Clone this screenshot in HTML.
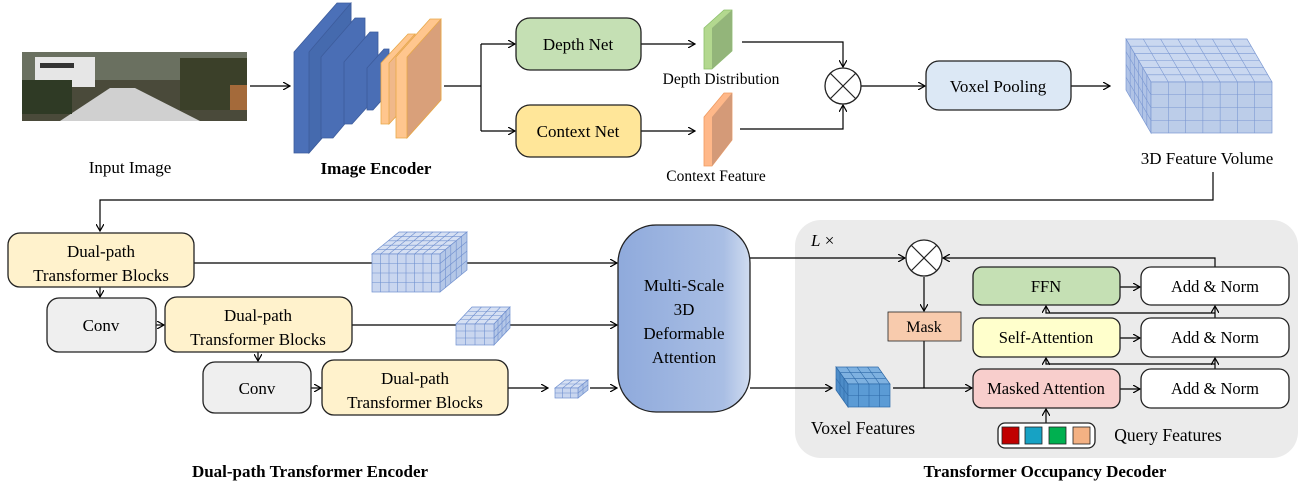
<!DOCTYPE html>
<html><head><meta charset="utf-8"><style>
body{margin:0;background:#fff;}
svg{display:block;font-family:"Liberation Serif",serif;}
</style></head><body>
<svg id="s" width="1316" height="491" viewBox="0 0 1316 491" xmlns="http://www.w3.org/2000/svg">
<defs>
<marker id="a" markerWidth="8" markerHeight="8" refX="7" refY="4" orient="auto" markerUnits="userSpaceOnUse"><path d="M0,0 L7,4 L0,8" fill="none" stroke="#000" stroke-width="1.2"/></marker>
<linearGradient id="ms" x1="0" x2="1" y1="0" y2="0"><stop offset="0" stop-color="#8faadc"/><stop offset="0.8" stop-color="#a9bee4"/><stop offset="1" stop-color="#d0dcf0"/></linearGradient>
</defs>
<rect x="795" y="220" width="503" height="238" rx="26" fill="#ebebeb"/>
<!-- input image -->
<rect x="22" y="52" width="225" height="69" fill="#4a4a3a"/>
<rect x="22" y="52" width="225" height="28" fill="#6a7060"/>
<rect x="35" y="57" width="60" height="30" fill="#e6e6e6"/>
<rect x="40" y="63" width="34" height="5" fill="#333"/>
<polygon points="60,121 110,88 135,88 200,121" fill="#d0d0d0"/>
<rect x="22" y="80" width="50" height="34" fill="#2f3a25"/>
<rect x="180" y="58" width="67" height="52" fill="#3b4029"/>
<rect x="230" y="85" width="17" height="25" fill="#a46a3a"/>
<!-- encoder -->
<g stroke="#3d5c9c" stroke-width="0.8">
<polygon points="294,52 337,3 351,3 351,105 309,153 294,153" fill="#4b70b8"/>
<polygon points="309,52 351,3 351,105 309,153" fill="#456aae"/>
<polygon points="321,57 355,18 365,18 365,100 333,138 321,138" fill="#4a6eb5"/>
<polygon points="344,62 370,32 378,32 378,95 352,124 344,124" fill="#4a6eb5"/>
<polygon points="367,68 384,49 389,49 389,92 373,110 367,110" fill="#4a6eb5"/>
</g>
<g stroke="#e8a848" stroke-width="0.8">
<polygon points="381,63 408,34 415,34 415,96 389,124 381,124" fill="#ffc68e"/>
<polygon points="389,63 415,34 415,96 389,124" fill="#f0b88a"/>
<polygon points="396,57 430,19 441,19 441,100 407,138 396,138" fill="#ffc68e"/>
<polygon points="407,57 441,19 441,100 407,138" fill="#d9a07a"/>
</g>
<g fill="none" stroke="#000" stroke-width="1.2">
<line x1="250" y1="86" x2="290" y2="86" marker-end="url(#a)"/>
<polyline points="444,86 481,86"/>
<polyline points="481,44 481,131"/>
<line x1="481" y1="44" x2="515" y2="44" marker-end="url(#a)"/>
<line x1="481" y1="131" x2="515" y2="131" marker-end="url(#a)"/>
<line x1="641" y1="44" x2="695" y2="44" marker-end="url(#a)"/>
<line x1="641" y1="131" x2="695" y2="131" marker-end="url(#a)"/>
<polyline points="742,42 843,42 843,67" marker-end="url(#a)"/>
<polyline points="740,129 843,129 843,105" marker-end="url(#a)"/>
<line x1="861" y1="86" x2="925" y2="86" marker-end="url(#a)"/>
<line x1="1071" y1="86" x2="1110" y2="86" marker-end="url(#a)"/>
<polyline points="1213,172 1213,200 100,200 100,231" marker-end="url(#a)"/>
<line x1="194" y1="263" x2="617" y2="263" marker-end="url(#a)"/>
<line x1="100" y1="287" x2="100" y2="297" marker-end="url(#a)"/>
<line x1="156" y1="325" x2="164" y2="325" marker-end="url(#a)"/>
<line x1="352" y1="325" x2="617" y2="325" marker-end="url(#a)"/>
<line x1="258" y1="352" x2="258" y2="361" marker-end="url(#a)"/>
<line x1="311" y1="388" x2="321" y2="388" marker-end="url(#a)"/>
<line x1="508" y1="388" x2="548" y2="388" marker-end="url(#a)"/>
<line x1="590" y1="388" x2="617" y2="388" marker-end="url(#a)"/>
<polyline points="750,258 905,258" marker-end="url(#a)"/>
<line x1="750" y1="388" x2="832" y2="388" marker-end="url(#a)"/>
<line x1="924" y1="277" x2="924" y2="311" marker-end="url(#a)"/>
<polyline points="924,341 924,388"/>
<line x1="893" y1="388" x2="972" y2="388" marker-end="url(#a)"/>
<line x1="1120" y1="389" x2="1140" y2="389" marker-end="url(#a)"/>
<line x1="1120" y1="338" x2="1140" y2="338" marker-end="url(#a)"/>
<line x1="1120" y1="287" x2="1140" y2="287" marker-end="url(#a)"/>
<line x1="1215" y1="369" x2="1215" y2="358" marker-end="url(#a)"/>
<polyline points="1215,364 1046,364 1046,358" marker-end="url(#a)"/>
<line x1="1215" y1="318" x2="1215" y2="306" marker-end="url(#a)"/>
<polyline points="1215,313 1046,313 1046,306" marker-end="url(#a)"/>
<polyline points="1215,267 1215,258 943,258" marker-end="url(#a)"/>
<line x1="1046" y1="423" x2="1046" y2="409" marker-end="url(#a)"/>
</g>
<polygon points="704,28 724,10 732,10 732,51 712,69 704,69" fill="#b3d88f" stroke="#8bbf6a" stroke-width="0.8"/>
<polygon points="712,28 732,10 732,51 712,69" fill="#93b57a"/>
<polygon points="704,117 724,93 732,93 732,140 712,166 704,166" fill="#ffb889" stroke="#f09a60" stroke-width="0.8"/>
<polygon points="712,117 732,93 732,140 712,166" fill="#d49a78"/>
<g stroke="#222" stroke-width="1.3">
<rect x="516" y="18" width="125" height="52" rx="14" fill="#c5e0b4"/>
<rect x="516" y="105" width="125" height="52" rx="14" fill="#ffe699"/>
<rect x="926" y="61" width="145" height="49" rx="13" fill="#dce8f5"/>
<rect x="8" y="233" width="186" height="54" rx="12" fill="#fff2cc"/>
<rect x="47" y="298" width="109" height="54" rx="12" fill="#efefef"/>
<rect x="165" y="297" width="187" height="55" rx="12" fill="#fff2cc"/>
<rect x="203" y="362" width="108" height="51" rx="12" fill="#efefef"/>
<rect x="322" y="360" width="186" height="55" rx="12" fill="#fff2cc"/>
<rect x="618" y="225" width="132" height="187" rx="38" fill="url(#ms)"/>
<rect x="888" y="312" width="73" height="29" fill="#f8cbad" stroke-width="0.8"/>
<rect x="973" y="369" width="147" height="39" rx="9" fill="#f8cecc"/>
<rect x="973" y="318" width="147" height="39" rx="9" fill="#ffffcc"/>
<rect x="973" y="267" width="147" height="38" rx="9" fill="#c5e0b4"/>
<rect x="1141" y="369" width="148" height="39" rx="10" fill="#fff"/>
<rect x="1141" y="318" width="148" height="39" rx="10" fill="#fff"/>
<rect x="1141" y="267" width="148" height="38" rx="10" fill="#fff"/>
<rect x="998" y="423" width="97" height="25" rx="7" fill="#fff"/>
<circle cx="843" cy="86" r="18" fill="#fff"/>
<circle cx="924" cy="258" r="18" fill="#fff"/>
</g>
<g stroke="#222" stroke-width="1.2">
<line x1="830" y1="73" x2="856" y2="99"/><line x1="856" y1="73" x2="830" y2="99"/>
<line x1="911" y1="245" x2="937" y2="271"/><line x1="937" y1="245" x2="911" y2="271"/>
</g>
<g stroke="#222" stroke-width="0.8">
<rect x="1002" y="427" width="17" height="17" fill="#c00000"/>
<rect x="1025" y="427" width="17" height="17" fill="#17a2c4"/>
<rect x="1049" y="427" width="17" height="17" fill="#00b050"/>
<rect x="1073" y="427" width="17" height="17" fill="#f4b183"/>
</g>
<g id="cubes"></g>
<g font-size="17" text-anchor="middle" fill="#000">
<text x="130" y="173">Input Image</text>
<text x="376" y="174" font-weight="bold">Image Encoder</text>
<text x="578" y="50">Depth Net</text>
<text x="578" y="137">Context Net</text>
<text x="721" y="84" font-size="15.5">Depth Distribution</text>
<text x="716" y="181" font-size="15.5">Context Feature</text>
<text x="998" y="92">Voxel Pooling</text>
<text x="1207" y="164">3D Feature Volume</text>
<text x="101" y="257">Dual-path</text><text x="101" y="281">Transformer Blocks</text>
<text x="101" y="331">Conv</text>
<text x="258" y="321">Dual-path</text><text x="258" y="345">Transformer Blocks</text>
<text x="257" y="394">Conv</text>
<text x="415" y="384">Dual-path</text><text x="415" y="408">Transformer Blocks</text>
<text x="684" y="291">Multi-Scale</text><text x="684" y="315">3D</text><text x="684" y="339">Deformable</text><text x="684" y="363">Attention</text>
<text x="924" y="332" font-size="16">Mask</text>
<text x="1046" y="292" font-size="16.5">FFN</text>
<text x="1046" y="343" font-size="16.5">Self-Attention</text>
<text x="1046" y="394" font-size="16.5">Masked Attention</text>
<text x="1215" y="292" font-size="16.5">Add &amp; Norm</text>
<text x="1215" y="343" font-size="16.5">Add &amp; Norm</text>
<text x="1215" y="394" font-size="16.5">Add &amp; Norm</text>
<text x="863" y="434" font-size="17.5">Voxel Features</text>
<text x="1168" y="441" font-size="17.5">Query Features</text>
<text x="310" y="477" font-weight="bold">Dual-path Transformer Encoder</text>
<text x="1045" y="477" font-weight="bold">Transformer Occupancy Decoder</text>
</g>
<text x="811" y="246" font-size="17"><tspan font-style="italic">L</tspan> ×</text>
</svg>
<script>
var g=document.getElementById('cubes'),NS='http://www.w3.org/2000/svg';
function el(t,a){var e=document.createElementNS(NS,t);for(var k in a)e.setAttribute(k,a[k]);g.appendChild(e);}
function cube(x,y,w,h,dx,dy,nx,ny,nz,f1,f2,f3,st){
 el('polygon',{points:[x,y,x+w,y,x+w+dx,y+dy,x+dx,y+dy].join(','),fill:f2,stroke:st,'stroke-width':0.7});
 var sx=dx<0?x:x+w;
 el('polygon',{points:[sx,y,sx+dx,y+dy,sx+dx,y+h+dy,sx,y+h].join(','),fill:f3,stroke:st,'stroke-width':0.7});
 el('rect',{x:x,y:y,width:w,height:h,fill:f1,stroke:st,'stroke-width':0.7});
 var i;
 for(i=1;i<nx;i++){var px=x+w*i/nx;el('line',{x1:px,y1:y,x2:px,y2:y+h,stroke:st,'stroke-width':0.6});el('line',{x1:px,y1:y,x2:px+dx,y2:y+dy,stroke:st,'stroke-width':0.6});}
 for(i=1;i<ny;i++){var py=y+h*i/ny;el('line',{x1:x,y1:py,x2:x+w,y2:py,stroke:st,'stroke-width':0.6});el('line',{x1:sx,y1:py,x2:sx+dx,y2:py+dy,stroke:st,'stroke-width':0.6});}
 for(i=1;i<nz;i++){var ox=dx*i/nz,oy=dy*i/nz;el('line',{x1:x+ox,y1:y+oy,x2:x+w+ox,y2:y+oy,stroke:st,'stroke-width':0.6});el('line',{x1:sx+ox,y1:y+oy,x2:sx+ox,y2:y+h+oy,stroke:st,'stroke-width':0.6});}
}
cube(1151,82,121,51,-25,-43,7,4,6,'#bccde9','#cad8f0','#b0c3e6','#7b98d2');
cube(372,254,68,38,27,-22,8,4,5,'#c9d6ef','#d6e0f3','#b4c7e7','#6f8fcf');
cube(456,324,38,21,16,-17,4,3,4,'#c9d6ef','#d6e0f3','#b4c7e7','#6f8fcf');
cube(555,388,23,10,10,-8,3,2,2,'#c9d6ef','#d6e0f3','#b4c7e7','#6f8fcf');
cube(848,384,42,23,-12,-17,4,2,3,'#5b9bd5','#7eb1e0','#4d8cc8','#2e6aa8');
</script>
</body></html>
